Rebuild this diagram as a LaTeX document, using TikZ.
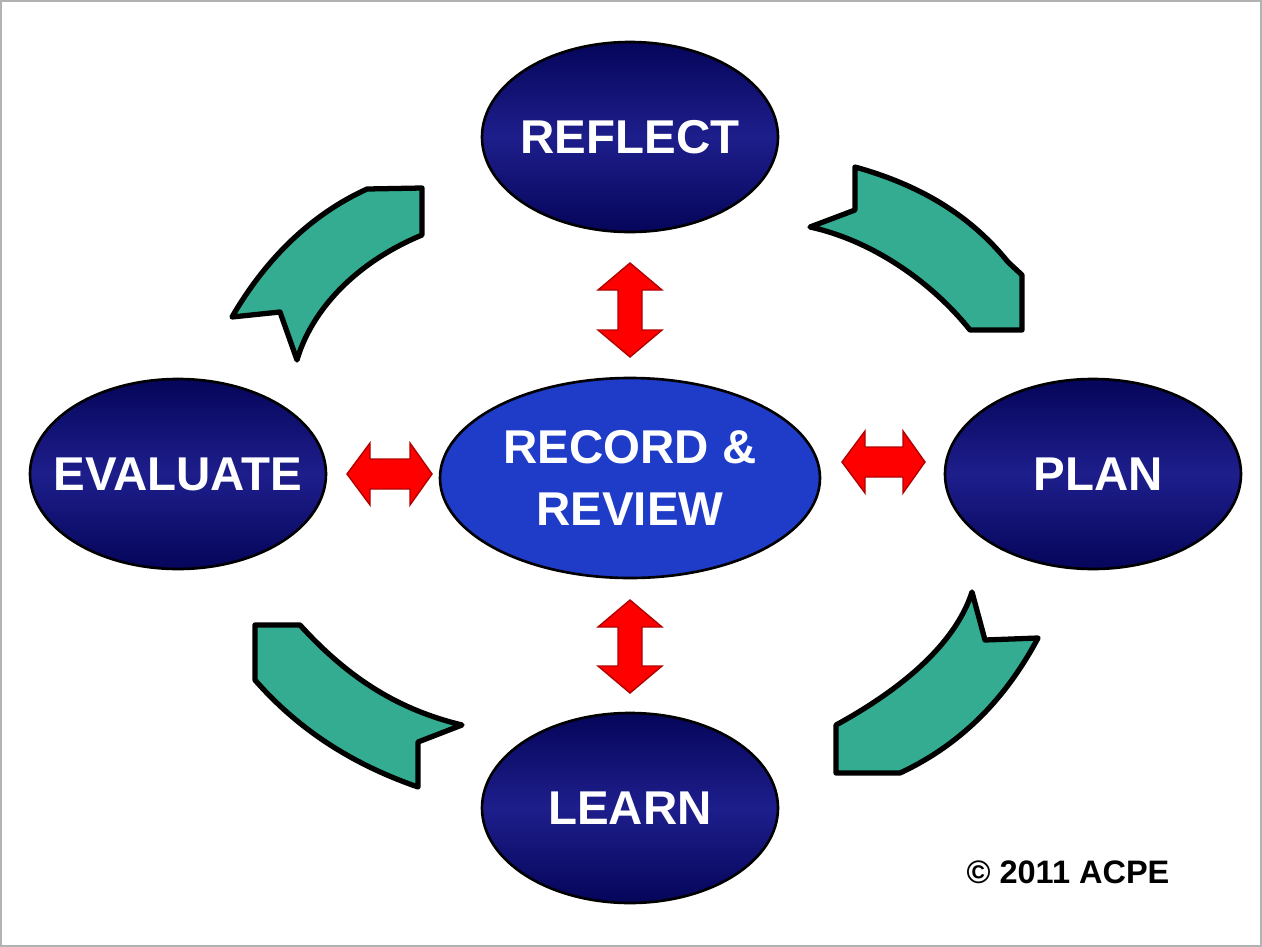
\documentclass[tikz,border=0pt]{standalone}
\usepackage{fontspec}
\setmainfont{Liberation Sans}
\usetikzlibrary{shapes.geometric}
\definecolor{navy}{RGB}{5,5,90}
\definecolor{navyl}{RGB}{30,30,140}
\definecolor{teal}{RGB}{52,172,146}
\definecolor{cmid}{RGB}{70,120,255}
\definecolor{cedge}{RGB}{30,60,200}
\newlength{\pxu}\setlength{\pxu}{0.02cm}
\tikzset{
 outer/.style={ellipse,inner sep=0pt,draw=black,line width=1.5pt,minimum width=296\pxu,minimum height=190\pxu,top color=navy,bottom color=navy,middle color=navyl,label={[text=white,font=\fontsize{27}{31}\selectfont\bfseries]center:#1}},
 centre/.style={ellipse,inner sep=0pt,draw=black,line width=1.5pt,minimum width=380\pxu,minimum height=200\pxu,top color=cedge,middle color=cmid,bottom color=cedge,label={[text=white,align=center,font=\fontsize{27}{35}\selectfont\bfseries]center:#1}},
 green/.style={fill=teal,draw=black,line width=3pt,line join=round},
 redarr/.style={fill=red,draw=red!70!black,line width=0.8pt}
}
\begin{document}
\begin{tikzpicture}[x=0.02cm,y=-0.02cm]
\useasboundingbox (0,0) rectangle (1262,947);
\draw[gray!60,line width=1pt] (1,1) rectangle (1261,946);
% green arrows
\draw[green] (422,188) -- (422,235) .. controls (350,265) and (310,315) .. (297,360) -- (280,312) -- (232,317) .. controls (265,260) and (310,215) .. (367,189) -- cycle;
\draw[green] (855,167) -- (855,210) -- (810,227) .. controls (870,240) and (930,280) .. (970,330) -- (1022,330) -- (1022,275) -- (1008,262) .. controls (970,215) and (920,185) .. (855,167) -- cycle;
\draw[green] (972,592) -- (985,640) -- (1038,638) .. controls (1005,700) and (960,745) .. (900,773) -- (836,773) -- (836,725) .. controls (900,690) and (955,645) .. (972,592) -- cycle;
\draw[green] (255,625) -- (300,625) .. controls (350,680) and (400,710) .. (462,725) -- (418,742) -- (418,787) .. controls (340,760) and (290,720) .. (255,680) -- cycle;
% red arrows
\draw[redarr] (630,263) -- (662,290) -- (642,290) -- (642,330) -- (662,330) -- (630,357) -- (598,330) -- (618,330) -- (618,290) -- (598,290) -- cycle;
\draw[redarr] (630,600) -- (662,627) -- (642,627) -- (642,666) -- (662,666) -- (630,693) -- (598,666) -- (618,666) -- (618,627) -- (598,627) -- cycle;
\draw[redarr] (347,474) -- (370,443) -- (370,459) -- (410,459) -- (410,443) -- (432,474) -- (410,505) -- (410,489) -- (370,489) -- (370,505) -- cycle;
\draw[redarr] (842,462) -- (865,431) -- (865,447) -- (903,447) -- (903,431) -- (925,462) -- (903,493) -- (903,477) -- (865,477) -- (865,493) -- cycle;
% ellipses
\node[outer={REFLECT}] (reflect) at (630,137) {};
\node[outer={EVALUATE}] (evaluate) at (178,474) {};
\node[outer={\hspace*{10\pxu}PLAN}] (plan) at (1093,474) {};
\node[outer={LEARN}] (learn) at (630,808) {};
\node[centre={RECORD \&\\REVIEW}] (rr) at (630,478) {};
\node[font=\fontsize{18.5}{22}\selectfont\bfseries] (copy) at (1068,872) {© 2011 ACPE};
\end{tikzpicture}
\end{document}
